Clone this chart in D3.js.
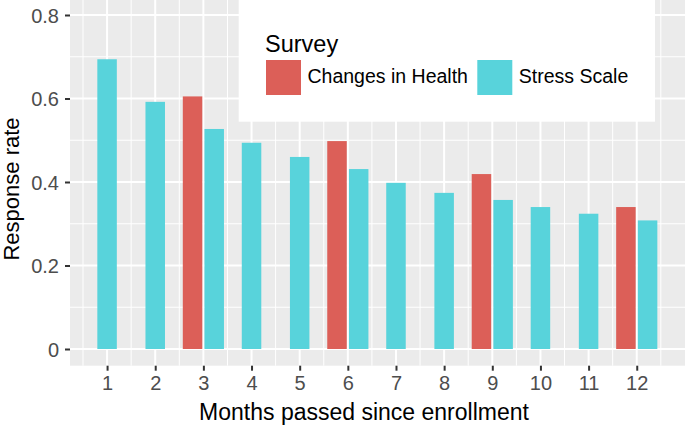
<!DOCTYPE html>
<html>
<head>
<meta charset="utf-8">
<script src="https://cdn.jsdelivr.net/npm/d3@7"></script>
<style>
  html, body { margin: 0; padding: 0; background: #ffffff; }
  svg { display: block; }
  text { font-family: "Liberation Sans", Arial, Helvetica, sans-serif; }
</style>
</head>
<body>
<svg id="chart" width="685" height="427"></svg>
<script>
// ---- data ----
const months = [1, 2, 3, 4, 5, 6, 7, 8, 9, 10, 11, 12];
const stressScale = [0.694, 0.592, 0.527, 0.494, 0.460, 0.431, 0.398, 0.374, 0.357, 0.340, 0.324, 0.308];
const healthMonths = [3, 6, 9, 12];
const changesInHealth = [0.605, 0.498, 0.419, 0.340];
const yTicks = [0, 0.2, 0.4, 0.6, 0.8];
const yTickLabels = ["0", "0.2", "0.4", "0.6", "0.8"];
const seriesNames = ["Changes in Health", "Stress Scale"];
const seriesColors = ["#DC5F58", "#58D3DB"];
const legendTitle = "Survey";
const xTitle = "Months passed since enrollment";
const yTitle = "Response rate";

// ---- layout ----
const panel = { left: 70, right: 685, top: -1.7, bottom: 365.7 };
const svg = d3.select("#chart");

const x = d3.scaleLinear().domain([0.23, 13.0]).range([panel.left, 684.9]);
const y = d3.scaleLinear().domain([-0.04, 0.84]).range([panel.bottom, panel.top]);
const color = d3.scaleOrdinal().domain(seriesNames).range(seriesColors);

// panel background
svg.append("rect")
  .attr("x", panel.left).attr("y", 0)
  .attr("width", panel.right - panel.left).attr("height", panel.bottom)
  .attr("fill", "#EBEBEB");

const grid = svg.append("g");
// minor grid
const yMinor = d3.range(0.1, 0.85, 0.2);
grid.selectAll("line.ymin").data(yMinor).join("line")
  .attr("x1", panel.left).attr("x2", panel.right)
  .attr("y1", d => y(d)).attr("y2", d => y(d))
  .attr("stroke", "#fff").attr("stroke-width", 1);
const xMinor = d3.range(0.5, 13.0, 1);
grid.selectAll("line.xmin").data(xMinor).join("line")
  .attr("y1", 0).attr("y2", panel.bottom)
  .attr("x1", d => x(d)).attr("x2", d => x(d))
  .attr("stroke", "#fff").attr("stroke-width", 1);
// major grid
grid.selectAll("line.ymaj").data(yTicks).join("line")
  .attr("x1", panel.left).attr("x2", panel.right)
  .attr("y1", d => y(d)).attr("y2", d => y(d))
  .attr("stroke", "#fff").attr("stroke-width", 2);
grid.selectAll("line.xmaj").data(months).join("line")
  .attr("y1", 0).attr("y2", panel.bottom)
  .attr("x1", d => x(d)).attr("x2", d => x(d))
  .attr("stroke", "#fff").attr("stroke-width", 2);

// bars
const barW = 0.405, off = 0.225;
const bars = [];
months.forEach((m, i) => {
  const j = healthMonths.indexOf(m);
  if (j >= 0) {
    bars.push({ m: m, c: m - off, v: changesInHealth[j], s: seriesNames[0] });
    bars.push({ m: m, c: m + off, v: stressScale[i], s: seriesNames[1] });
  } else {
    bars.push({ m: m, c: m, v: stressScale[i], s: seriesNames[1] });
  }
});
svg.append("g").selectAll("rect").data(bars).join("rect")
  .attr("x", d => x(d.c - barW / 2))
  .attr("width", d => x(d.c + barW / 2) - x(d.c - barW / 2))
  .attr("y", d => y(d.v))
  .attr("height", d => y(0) - y(d.v))
  .attr("fill", d => color(d.s));

// axes
const yAxis = d3.axisLeft(y).tickValues(yTicks)
  .tickFormat((d, i) => yTickLabels[i]).tickSize(5).tickPadding(6);
const gy = svg.append("g").attr("transform", `translate(${panel.left},0)`).call(yAxis);
gy.select(".domain").remove();
gy.selectAll(".tick line").attr("stroke", "#333").attr("stroke-width", 2);
gy.selectAll(".tick text").attr("fill", "#4D4D4D").attr("font-size", "20px")
  .attr("font-family", "Liberation Sans, Arial, sans-serif").attr("dy", "0.35em");

const xAxis = d3.axisBottom(x).tickValues(months).tickFormat(d3.format("d"))
  .tickSize(5).tickPadding(5);
const gx = svg.append("g").attr("transform", `translate(0,${panel.bottom})`).call(xAxis);
gx.select(".domain").remove();
gx.selectAll(".tick line").attr("stroke", "#333").attr("stroke-width", 2);
gx.selectAll(".tick text").attr("fill", "#4D4D4D").attr("font-size", "20px")
  .attr("font-family", "Liberation Sans, Arial, sans-serif");

// axis titles
svg.append("text")
  .attr("x", 364).attr("y", 420)
  .attr("text-anchor", "middle").attr("font-size", "23px").attr("fill", "#000")
  .text(xTitle);
svg.append("text")
  .attr("transform", `translate(19,189) rotate(-90)`)
  .attr("text-anchor", "middle").attr("font-size", "22px").attr("fill", "#000")
  .text(yTitle);

// legend
const lg = svg.append("g");
lg.append("rect").attr("x", 238.7).attr("y", -5).attr("width", 655 - 238.7).attr("height", 121.7 + 5)
  .attr("fill", "#fff");
lg.append("text").attr("x", 265).attr("y", 51.7).attr("font-size", "23.5px").attr("fill", "#000")
  .text(legendTitle);
const keyX = [266, 477.3];
seriesNames.forEach((s, i) => {
  lg.append("rect").attr("x", keyX[i]).attr("y", 60).attr("width", 35).attr("height", 35)
    .attr("fill", color(s));
  lg.append("text").attr("x", keyX[i] + 41.5).attr("y", 83).attr("font-size", "19.5px")
    .attr("fill", "#000").text(s);
});
</script>
</body>
</html>
